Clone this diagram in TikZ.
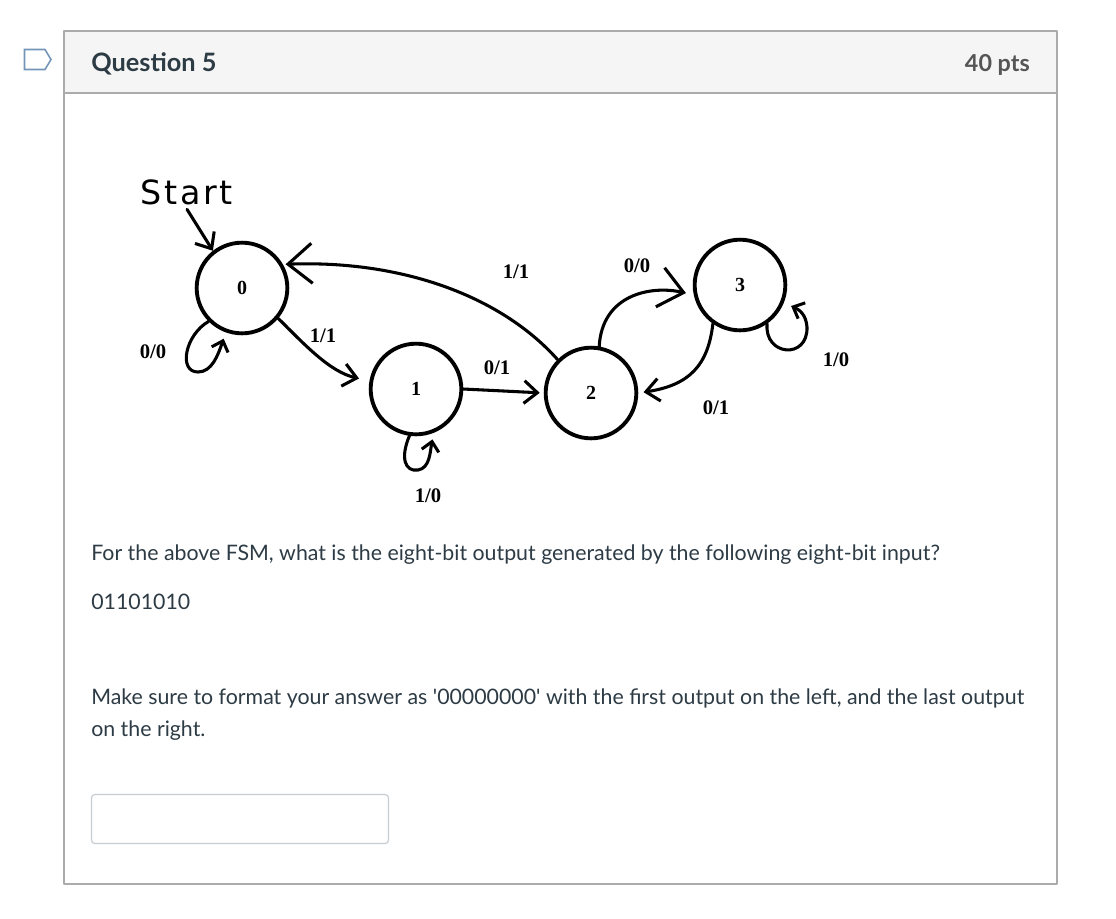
\documentclass[tikz,border=0pt]{standalone}
\usepackage{fontspec}
\newfontfamily\canvasfont{Lato}
\newfontfamily\fsmfont{Liberation Serif}
\newfontfamily\handfont{DejaVu Sans}
\usetikzlibrary{arrows.meta,positioning,calc}
\definecolor{inktext}{HTML}{2D3B45}
\definecolor{ptsgray}{HTML}{555555}
\definecolor{framegray}{HTML}{ABABAB}
\definecolor{headgray}{HTML}{F5F5F5}
\definecolor{boxgray}{HTML}{C7CDD1}
\definecolor{tabblue}{HTML}{7396B8}

\begin{document}
\begin{tikzpicture}[x=0.75pt,y=-0.75pt, line join=round, line cap=round,
  state/.style={circle,draw,line width=2.9pt,minimum size=68pt,inner sep=0pt,font=\fsmfont\bfseries\fontsize{15}{15}\selectfont},
  lbl/.style={inner sep=0pt,font=\fsmfont\bfseries\fontsize{15.5}{15}\selectfont},
  edge/.style={line width=2.3pt,-{Straight Barb[length=10pt,width=17pt]}},
  bigedge/.style={line width=2.3pt,-{Straight Barb[length=18pt,width=30pt]}},
  loopedge/.style={line width=2.3pt,-{Straight Barb[length=7pt,width=13pt]}},
  body/.style={anchor=base west,inner sep=0pt,text=inktext,font=\canvasfont\fontsize{16}{24}\selectfont}]
\fill[white] (0,0) rectangle (1116,918);
\useasboundingbox (0,0) rectangle (1116,918);
\fill[headgray] (64,31) rectangle (1057,93);
\draw[framegray,line width=0.9pt] (64,31) rectangle (1057,884) (64,93) -- (1057,93);
\draw[tabblue,line width=1.2pt,line cap=butt,line join=miter] (24.5,49.5) -- (45,49.5) -- (51,59.5) -- (45,69.5) -- (24.5,69.5) -- cycle;
\node[body,font=\canvasfont\bfseries\fontsize{19}{19}\selectfont] (title) at (91,71) {Question 5};
\node[body,anchor=base east,text=ptsgray,font=\canvasfont\bfseries\fontsize{17.5}{18}\selectfont] (pts) at (1030,71) {40 pts};

\node[state] (s0) at (242,288) {0};
\node[state] (s1) at (416,389) {1};
\node[state] (s2) at (591,393) {2};
\node[state] (s3) at (740,285) {3};
\node[font=\handfont\fontsize{25}{25}\selectfont\addfontfeature{LetterSpace=8}] (start) at (187,192) {Start};

\draw[edge] (start.south) -- (s0.128);
\draw[loopedge,shorten >=5pt] (s0.225) .. controls (185,335) and (178,372) .. (198,372) .. controls (212,372) and (218,355) .. (s0.250);
\draw[edge,shorten >=8pt] (s0.-40) .. controls (305,345) and (330,372) .. (s1.170);
\draw[loopedge,shorten >=5pt] (s1.-98) .. controls (400,458) and (405,472) .. (418,470) .. controls (430,468) and (430,452) .. (s1.-68);
\draw[edge,shorten >=3pt] (s1.east) -- (s2.west);
\draw[bigedge,shorten >=2pt] (s2.135) .. controls (500,295) and (400,260) .. (s0.30);
\draw[bigedge,shorten >=6pt] (s2.80) .. controls (602,295) and (650,285) .. (s3.192);
\draw[edge,shorten >=4pt] (s3.235) .. controls (708,365) and (690,385) .. (s2.east);
\draw[loopedge,shorten >=6pt] (s3.-55) .. controls (764,356) and (808,360) .. (807,327) .. controls (806,315) and (800,310) .. (s3.-22);

\node[lbl] (l00a) at (153,352) {0/0};
\node[lbl] (l11a) at (323,336) {1/1};
\node[lbl] (l11b) at (516,272) {1/1};
\node[lbl] (l01a) at (497,368) {0/1};
\node[lbl] (l00b) at (637,266) {0/0};
\node[lbl] (l10a) at (836,360) {1/0};
\node[lbl] (l01b) at (716,408) {0/1};
\node[lbl] (l10b) at (428,496) {1/0};

\node[body] (ask) at (91,560) {For the above FSM, what is the eight-bit output generated by the following eight-bit input?};
\node[body] (bits) at (91,609) {01101010};
\node[body,align=left] (hint) at (91,736) {Make sure to format your answer as '00000000' with the first output on the left, and the last output\\on the right.};
\draw[boxgray,line width=0.9pt,rounded corners=2.5pt] (91.5,794.5) rectangle (388.5,843.5);
\end{tikzpicture}
\end{document}
